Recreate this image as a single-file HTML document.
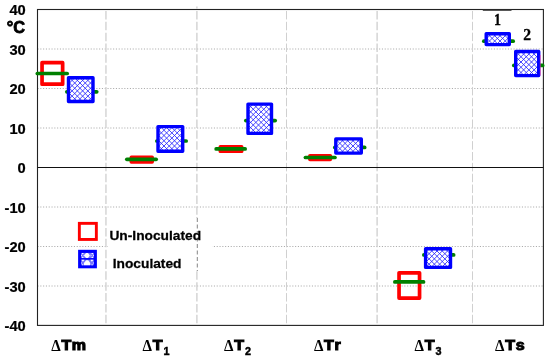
<!DOCTYPE html>
<html><head><meta charset="utf-8"><title>Chart</title>
<style>
html,body{margin:0;padding:0;background:#fff;}
svg{display:block;}
text{fill:#000;}
</style></head><body>
<svg width="550" height="358" viewBox="0 0 550 358">
<rect width="550" height="358" fill="#fff"/>
<line x1="37.5" x2="543.4" y1="49" y2="49" stroke="#acacac" stroke-width="1" stroke-dasharray="1.1 1.7"/>
<line x1="37.5" x2="543.4" y1="88.5" y2="88.5" stroke="#acacac" stroke-width="1" stroke-dasharray="1.1 1.7"/>
<line x1="37.5" x2="543.4" y1="128" y2="128" stroke="#acacac" stroke-width="1" stroke-dasharray="1.1 1.7"/>
<line x1="37.5" x2="543.4" y1="207" y2="207" stroke="#acacac" stroke-width="1" stroke-dasharray="1.1 1.7"/>
<line x1="37.5" x2="543.4" y1="246.5" y2="246.5" stroke="#acacac" stroke-width="1" stroke-dasharray="1.1 1.7"/>
<line x1="37.5" x2="543.4" y1="286" y2="286" stroke="#acacac" stroke-width="1" stroke-dasharray="1.1 1.7"/>
<clipPath id="vc"><rect x="0" y="9.5" width="550" height="315.9"/><rect x="190" y="6.5" width="14" height="4"/></clipPath><g clip-path="url(#vc)">
<line x1="105.95" x2="105.95" y1="0.1" y2="325.4" stroke="#d0d0d0" stroke-width="1.35" stroke-dasharray="8.5 2.35"/>
<line x1="196.9" x2="196.9" y1="0.1" y2="325.4" stroke="#d0d0d0" stroke-width="1.35" stroke-dasharray="8.5 2.35"/>
<line x1="286.5" x2="286.5" y1="0.1" y2="325.4" stroke="#d0d0d0" stroke-width="1.0" stroke-dasharray="8.5 2.35"/>
<line x1="377.1" x2="377.1" y1="0.1" y2="325.4" stroke="#d0d0d0" stroke-width="1.35" stroke-dasharray="8.5 2.35"/>
<line x1="472.5" x2="472.5" y1="0.1" y2="325.4" stroke="#d0d0d0" stroke-width="1.0" stroke-dasharray="8.5 2.35"/>
</g>
<rect x="37.5" y="9.5" width="505.9" height="315.9" fill="none" stroke="#222" stroke-width="1.1"/>
<line x1="37.5" x2="543.4" y1="167.5" y2="167.5" stroke="#111" stroke-width="1.2"/>
<line x1="482.8" x2="511.5" y1="10.2" y2="10.2" stroke="#333" stroke-width="1.2"/>
<rect x="42.05" y="62.65" width="20.60" height="21.50" fill="none" stroke="#ff0000" stroke-width="3.7" stroke-linejoin="round"/>
<line x1="37.35" x2="67.15" y1="73.50" y2="73.50" stroke="#008000" stroke-width="3.7" stroke-linecap="round"/>
<rect x="131.35" y="157.45" width="20.80" height="4.40" fill="#ff0000" stroke="#ff0000" stroke-width="3.7" stroke-linejoin="round"/>
<line x1="126.85" x2="156.15" y1="159.30" y2="159.30" stroke="#008000" stroke-width="3.7" stroke-linecap="round"/>
<rect x="220.35" y="146.95" width="21.30" height="4.20" fill="#ff0000" stroke="#ff0000" stroke-width="3.7" stroke-linejoin="round"/>
<line x1="216.15" x2="245.15" y1="148.90" y2="148.90" stroke="#008000" stroke-width="3.7" stroke-linecap="round"/>
<rect x="309.95" y="155.75" width="20.30" height="3.60" fill="#ff0000" stroke="#ff0000" stroke-width="3.7" stroke-linejoin="round"/>
<line x1="305.45" x2="334.95" y1="157.50" y2="157.50" stroke="#008000" stroke-width="3.7" stroke-linecap="round"/>
<rect x="399.05" y="272.85" width="20.50" height="25.20" fill="none" stroke="#ff0000" stroke-width="3.7" stroke-linejoin="round"/>
<line x1="394.85" x2="423.55" y1="281.90" y2="281.90" stroke="#008000" stroke-width="3.7" stroke-linecap="round"/>
<line x1="66.85" x2="96.75" y1="91.80" y2="91.80" stroke="#008000" stroke-width="3.7" stroke-linecap="round"/>
<clipPath id="c1"><rect x="68.20" y="77.40" width="25.10" height="24.40"/></clipPath>
<rect x="68.20" y="77.40" width="25.10" height="24.40" fill="#fff"/>
<path clip-path="url(#c1)" d="M67.20 106.97L94.30 134.06M67.20 101.72L94.30 128.81M67.20 96.47L94.30 123.56M67.20 91.22L94.30 118.31M67.20 85.97L94.30 113.06M67.20 80.72L94.30 107.81M67.20 75.47L94.30 102.56M67.20 70.22L94.30 97.31M67.20 64.97L94.30 92.06M67.20 59.72L94.30 86.81M67.20 54.47L94.30 81.56M67.20 49.22L94.30 76.31M67.20 43.97L94.30 71.06M67.20 69.54L94.30 42.44M67.20 74.79L94.30 47.69M67.20 80.04L94.30 52.94M67.20 85.29L94.30 58.19M67.20 90.54L94.30 63.44M67.20 95.79L94.30 68.69M67.20 101.04L94.30 73.94M67.20 106.29L94.30 79.19M67.20 111.54L94.30 84.44M67.20 116.79L94.30 89.69M67.20 122.04L94.30 94.94M67.20 127.29L94.30 100.19M67.20 132.54L94.30 105.44M67.20 137.79L94.30 110.69" stroke="#2626ff" stroke-width="0.85" fill="none"/>
<rect x="68.50" y="77.70" width="24.50" height="23.80" fill="none" stroke="#0000ff" stroke-width="3.4" stroke-linejoin="round"/>
<line x1="156.85" x2="186.15" y1="141.00" y2="141.00" stroke="#008000" stroke-width="3.7" stroke-linecap="round"/>
<clipPath id="c2"><rect x="157.70" y="126.30" width="25.30" height="25.30"/></clipPath>
<rect x="157.70" y="126.30" width="25.30" height="25.30" fill="#fff"/>
<path clip-path="url(#c2)" d="M156.70 159.71L184.00 187.02M156.70 154.46L184.00 181.77M156.70 149.21L184.00 176.52M156.70 143.96L184.00 171.27M156.70 138.71L184.00 166.02M156.70 133.46L184.00 160.77M156.70 128.21L184.00 155.52M156.70 122.96L184.00 150.27M156.70 117.71L184.00 145.02M156.70 112.46L184.00 139.77M156.70 107.21L184.00 134.52M156.70 101.96L184.00 129.27M156.70 96.71L184.00 124.02M156.70 91.46L184.00 118.77M156.70 121.79L184.00 94.48M156.70 127.04L184.00 99.73M156.70 132.29L184.00 104.98M156.70 137.54L184.00 110.23M156.70 142.79L184.00 115.48M156.70 148.04L184.00 120.73M156.70 153.29L184.00 125.98M156.70 158.54L184.00 131.23M156.70 163.79L184.00 136.48M156.70 169.04L184.00 141.73M156.70 174.29L184.00 146.98M156.70 179.54L184.00 152.23M156.70 184.79L184.00 157.48" stroke="#2626ff" stroke-width="0.85" fill="none"/>
<rect x="158.00" y="126.60" width="24.70" height="24.70" fill="none" stroke="#0000ff" stroke-width="3.4" stroke-linejoin="round"/>
<line x1="245.85" x2="275.15" y1="120.60" y2="120.60" stroke="#008000" stroke-width="3.7" stroke-linecap="round"/>
<clipPath id="c3"><rect x="247.70" y="103.80" width="24.10" height="29.90"/></clipPath>
<rect x="247.70" y="103.80" width="24.10" height="29.90" fill="#fff"/>
<path clip-path="url(#c3)" d="M246.70 139.46L272.80 165.56M246.70 134.21L272.80 160.31M246.70 128.96L272.80 155.06M246.70 123.71L272.80 149.81M246.70 118.46L272.80 144.56M246.70 113.21L272.80 139.31M246.70 107.96L272.80 134.06M246.70 102.71L272.80 128.81M246.70 97.46L272.80 123.56M246.70 92.21L272.80 118.31M246.70 86.96L272.80 113.06M246.70 81.71L272.80 107.81M246.70 76.46L272.80 102.56M246.70 71.21L272.80 97.31M246.70 94.79L272.80 68.69M246.70 100.04L272.80 73.94M246.70 105.29L272.80 79.19M246.70 110.54L272.80 84.44M246.70 115.79L272.80 89.69M246.70 121.04L272.80 94.94M246.70 126.29L272.80 100.19M246.70 131.54L272.80 105.44M246.70 136.79L272.80 110.69M246.70 142.04L272.80 115.94M246.70 147.29L272.80 121.19M246.70 152.54L272.80 126.44M246.70 157.79L272.80 131.69M246.70 163.04L272.80 136.94M246.70 168.29L272.80 142.19" stroke="#2626ff" stroke-width="0.85" fill="none"/>
<rect x="248.00" y="104.10" width="23.50" height="29.30" fill="none" stroke="#0000ff" stroke-width="3.4" stroke-linejoin="round"/>
<line x1="334.85" x2="364.65" y1="147.40" y2="147.40" stroke="#008000" stroke-width="3.7" stroke-linecap="round"/>
<clipPath id="c4"><rect x="335.50" y="138.60" width="26.10" height="14.80"/></clipPath>
<rect x="335.50" y="138.60" width="26.10" height="14.80" fill="#fff"/>
<path clip-path="url(#c4)" d="M334.50 159.01L362.60 187.12M334.50 153.76L362.60 181.87M334.50 148.51L362.60 176.62M334.50 143.26L362.60 171.37M334.50 138.01L362.60 166.12M334.50 132.76L362.60 160.87M334.50 127.51L362.60 155.62M334.50 122.26L362.60 150.37M334.50 117.01L362.60 145.12M334.50 111.76L362.60 139.87M334.50 106.51L362.60 134.62M334.50 101.26L362.60 129.37M334.50 132.99L362.60 104.88M334.50 138.24L362.60 110.13M334.50 143.49L362.60 115.38M334.50 148.74L362.60 120.63M334.50 153.99L362.60 125.88M334.50 159.24L362.60 131.13M334.50 164.49L362.60 136.38M334.50 169.74L362.60 141.63M334.50 174.99L362.60 146.88M334.50 180.24L362.60 152.13M334.50 185.49L362.60 157.38M334.50 190.74L362.60 162.63" stroke="#2626ff" stroke-width="0.85" fill="none"/>
<rect x="335.80" y="138.90" width="25.50" height="14.20" fill="none" stroke="#0000ff" stroke-width="3.4" stroke-linejoin="round"/>
<line x1="423.85" x2="453.65" y1="254.90" y2="254.90" stroke="#008000" stroke-width="3.7" stroke-linecap="round"/>
<clipPath id="c5"><rect x="425.30" y="248.50" width="25.50" height="19.20"/></clipPath>
<rect x="425.30" y="248.50" width="25.50" height="19.20" fill="#fff"/>
<path clip-path="url(#c5)" d="M424.30 275.06L451.80 302.56M424.30 269.81L451.80 297.31M424.30 264.56L451.80 292.06M424.30 259.31L451.80 286.81M424.30 254.06L451.80 281.56M424.30 248.81L451.80 276.31M424.30 243.56L451.80 271.06M424.30 238.31L451.80 265.81M424.30 233.06L451.80 260.56M424.30 227.81L451.80 255.31M424.30 222.56L451.80 250.06M424.30 217.31L451.80 244.81M424.30 212.06L451.80 239.56M424.30 242.69L451.80 215.19M424.30 247.94L451.80 220.44M424.30 253.19L451.80 225.69M424.30 258.44L451.80 230.94M424.30 263.69L451.80 236.19M424.30 268.94L451.80 241.44M424.30 274.19L451.80 246.69M424.30 279.44L451.80 251.94M424.30 284.69L451.80 257.19M424.30 289.94L451.80 262.44M424.30 295.19L451.80 267.69M424.30 300.44L451.80 272.94" stroke="#2626ff" stroke-width="0.85" fill="none"/>
<rect x="425.60" y="248.80" width="24.90" height="18.60" fill="none" stroke="#0000ff" stroke-width="3.4" stroke-linejoin="round"/>
<line x1="483.85" x2="513.15" y1="41.20" y2="41.20" stroke="#008000" stroke-width="3.7" stroke-linecap="round"/>
<clipPath id="c6"><rect x="485.90" y="33.40" width="23.70" height="11.50"/></clipPath>
<rect x="485.90" y="33.40" width="23.70" height="11.50" fill="#fff"/>
<path clip-path="url(#c6)" d="M484.90 52.16L510.60 77.87M484.90 46.91L510.60 72.62M484.90 41.66L510.60 67.37M484.90 36.41L510.60 62.12M484.90 31.16L510.60 56.87M484.90 25.91L510.60 51.62M484.90 20.66L510.60 46.37M484.90 15.41L510.60 41.12M484.90 10.16L510.60 35.87M484.90 4.91L510.60 30.62M484.90 -0.34L510.60 25.37M484.90 24.59L510.60 -1.12M484.90 29.84L510.60 4.13M484.90 35.09L510.60 9.38M484.90 40.34L510.60 14.63M484.90 45.59L510.60 19.88M484.90 50.84L510.60 25.13M484.90 56.09L510.60 30.38M484.90 61.34L510.60 35.63M484.90 66.59L510.60 40.88M484.90 71.84L510.60 46.13M484.90 77.09L510.60 51.38" stroke="#2626ff" stroke-width="0.85" fill="none"/>
<rect x="486.20" y="33.70" width="23.10" height="10.90" fill="none" stroke="#0000ff" stroke-width="3.4" stroke-linejoin="round"/>
<line x1="513.85" x2="542.65" y1="65.40" y2="65.40" stroke="#008000" stroke-width="3.7" stroke-linecap="round"/>
<clipPath id="c7"><rect x="515.40" y="51.20" width="23.60" height="24.70"/></clipPath>
<rect x="515.40" y="51.20" width="23.60" height="24.70" fill="#fff"/>
<path clip-path="url(#c7)" d="M514.40 81.67L540.00 107.26M514.40 76.42L540.00 102.01M514.40 71.17L540.00 96.76M514.40 65.92L540.00 91.51M514.40 60.67L540.00 86.26M514.40 55.42L540.00 81.01M514.40 50.17L540.00 75.76M514.40 44.92L540.00 70.51M514.40 39.67L540.00 65.26M514.40 34.42L540.00 60.01M514.40 29.17L540.00 54.76M514.40 23.92L540.00 49.51M514.40 18.67L540.00 44.26M514.40 42.33L540.00 16.74M514.40 47.58L540.00 21.99M514.40 52.83L540.00 27.24M514.40 58.08L540.00 32.49M514.40 63.33L540.00 37.74M514.40 68.58L540.00 42.99M514.40 73.83L540.00 48.24M514.40 79.08L540.00 53.49M514.40 84.33L540.00 58.74M514.40 89.58L540.00 63.99M514.40 94.83L540.00 69.24M514.40 100.08L540.00 74.49M514.40 105.33L540.00 79.74M514.40 110.58L540.00 84.99" stroke="#2626ff" stroke-width="0.85" fill="none"/>
<rect x="515.70" y="51.50" width="23.00" height="24.10" fill="none" stroke="#0000ff" stroke-width="3.4" stroke-linejoin="round"/>
<line x1="540.3" x2="540.3" y1="55" y2="75.5" stroke="#ff3090" stroke-width="0.8" opacity="0.7"/>
<rect x="108" y="218" width="104.6" height="53" fill="#fff"/>
<line x1="197.3" x2="197.3" y1="218" y2="271" stroke="#666" stroke-width="0.8" stroke-dasharray="4 2.5"/>
<rect x="79.35" y="223.35" width="17.00" height="16.10" fill="none" stroke="#ff0000" stroke-width="2.9" stroke-linejoin="miter"/>
<rect x="78.1" y="249.8" width="18.8" height="18.5" fill="#0000ff"/>
<rect x="81.2" y="252.9" width="12.6" height="5.2" fill="#7474ff"/>
<rect x="81.2" y="259.7" width="12.6" height="5.5" fill="#7474ff"/>
<path d="M86 252.9L88 252.9L89.9 255.5L88 258.1L86 258.1L84 255.5Z" fill="#fff"/>
<path d="M81.6 252.9L83.8 252.9L82.7 254.4Z M81.6 258.1L83.8 258.1L82.7 256.6Z M81.2 254.3L82.2 255.5L81.2 256.7Z M84.3 254.6L83.4 255.5L84.3 256.4Z" fill="#fff"/>
<path d="M91.2 252.9L93.4 252.9L92.3 254.4Z M91.2 258.1L93.4 258.1L92.3 256.6Z M93.8 254.3L92.8 255.5L93.8 256.7Z M90.7 254.6L91.6 255.5L90.7 256.4Z" fill="#fff"/>
<path d="M86.2 260.3L88.2 260.3L90.2 263L90.2 265.2L83.9 265.2L83.9 263Z" fill="#fff"/>
<path d="M81.4 259.7L84.4 259.7L82.9 261.8Z M90.4 259.7L93.4 259.7L91.9 261.8Z" fill="#fff"/>
<path d="M81.8 265.2L83.6 265.2L82.7 263.9Z M91.2 265.2L93 265.2L92.1 263.9Z M81.2 262L82 263L81.2 264Z M93.8 262L93 263L93.8 264Z" fill="#fff"/>
<text transform="translate(25.8,15.45) scale(0.955,1)" font-size="15.4" stroke="#000" stroke-width="0.25" text-anchor="end" font-family="Liberation Sans, Arial, sans-serif" font-weight="bold">40</text>
<text transform="translate(25.8,54.95) scale(0.955,1)" font-size="15.4" stroke="#000" stroke-width="0.25" text-anchor="end" font-family="Liberation Sans, Arial, sans-serif" font-weight="bold">30</text>
<text transform="translate(25.8,94.45) scale(0.955,1)" font-size="15.4" stroke="#000" stroke-width="0.25" text-anchor="end" font-family="Liberation Sans, Arial, sans-serif" font-weight="bold">20</text>
<text transform="translate(25.8,133.95) scale(0.955,1)" font-size="15.4" stroke="#000" stroke-width="0.25" text-anchor="end" font-family="Liberation Sans, Arial, sans-serif" font-weight="bold">10</text>
<text transform="translate(25.8,173.45) scale(0.955,1)" font-size="15.4" stroke="#000" stroke-width="0.25" text-anchor="end" font-family="Liberation Sans, Arial, sans-serif" font-weight="bold">0</text>
<text transform="translate(25.8,212.95) scale(0.955,1)" font-size="15.4" stroke="#000" stroke-width="0.25" text-anchor="end" font-family="Liberation Sans, Arial, sans-serif" font-weight="bold">-10</text>
<text transform="translate(25.8,252.45) scale(0.955,1)" font-size="15.4" stroke="#000" stroke-width="0.25" text-anchor="end" font-family="Liberation Sans, Arial, sans-serif" font-weight="bold">-20</text>
<text transform="translate(25.8,291.95) scale(0.955,1)" font-size="15.4" stroke="#000" stroke-width="0.25" text-anchor="end" font-family="Liberation Sans, Arial, sans-serif" font-weight="bold">-30</text>
<text transform="translate(25.8,331.45) scale(0.955,1)" font-size="15.4" stroke="#000" stroke-width="0.25" text-anchor="end" font-family="Liberation Sans, Arial, sans-serif" font-weight="bold">-40</text>
<text x="6.8" y="32.6" font-size="16.3" stroke="#000" stroke-width="0.8" font-family="Liberation Sans, Arial, sans-serif" font-weight="bold">°C</text>
<text transform="translate(109.4,240) scale(1.06,1)" font-size="13" stroke="#000" stroke-width="0.25" font-family="Liberation Sans, Arial, sans-serif" font-weight="bold">Un-Inoculated</text>
<text transform="translate(112.7,268) scale(1.06,1)" font-size="13" stroke="#000" stroke-width="0.25" font-family="Liberation Sans, Arial, sans-serif" font-weight="bold">Inoculated</text>
<text transform="translate(494,25) scale(0.85,1)" font-size="16.5" stroke="#000" stroke-width="0.3" font-family="Liberation Serif, Times New Roman, serif" font-weight="bold">1</text>
<text transform="translate(523.2,40.2) scale(0.95,1)" font-size="16.5" stroke="#000" stroke-width="0.3" font-family="Liberation Serif, Times New Roman, serif" font-weight="bold">2</text>
<text transform="translate(51.199999999999996,351.2) scale(0.88,1)" font-size="17.2" font-family="Liberation Serif, Times New Roman, serif" font-weight="bold">Δ</text><text transform="translate(61.4,349.9) scale(1.13,1)" font-size="14.2" letter-spacing="0.5" style="font-kerning:none" stroke="#000" stroke-width="1.0" stroke-linejoin="miter" font-family="Liberation Sans, Arial, sans-serif" font-weight="bold">Tm</text>
<text transform="translate(142.6,351.2) scale(0.88,1)" font-size="17.2" font-family="Liberation Serif, Times New Roman, serif" font-weight="bold">Δ</text><text transform="translate(152.79999999999998,349.9) scale(1.13,1)" font-size="14.2" letter-spacing="0.5" style="font-kerning:none" stroke="#000" stroke-width="1.0" stroke-linejoin="miter" font-family="Liberation Sans, Arial, sans-serif" font-weight="bold">T</text><text transform="translate(163.5,354.6) scale(0.93,1)" font-size="11.6" stroke="#000" stroke-width="0.5" font-family="Liberation Sans, Arial, sans-serif" font-weight="bold">1</text>
<text transform="translate(224.0,351.2) scale(0.88,1)" font-size="17.2" font-family="Liberation Serif, Times New Roman, serif" font-weight="bold">Δ</text><text transform="translate(234.2,349.9) scale(1.13,1)" font-size="14.2" letter-spacing="0.5" style="font-kerning:none" stroke="#000" stroke-width="1.0" stroke-linejoin="miter" font-family="Liberation Sans, Arial, sans-serif" font-weight="bold">T</text><text transform="translate(244.9,354.6) scale(0.93,1)" font-size="11.6" stroke="#000" stroke-width="0.5" font-family="Liberation Sans, Arial, sans-serif" font-weight="bold">2</text>
<text transform="translate(313.9,351.2) scale(0.88,1)" font-size="17.2" font-family="Liberation Serif, Times New Roman, serif" font-weight="bold">Δ</text><text transform="translate(324.1,349.9) scale(1.13,1)" font-size="14.2" letter-spacing="0.5" style="font-kerning:none" stroke="#000" stroke-width="1.0" stroke-linejoin="miter" font-family="Liberation Sans, Arial, sans-serif" font-weight="bold">Tr</text>
<text transform="translate(414.5,351.2) scale(0.88,1)" font-size="17.2" font-family="Liberation Serif, Times New Roman, serif" font-weight="bold">Δ</text><text transform="translate(424.70000000000005,349.9) scale(1.13,1)" font-size="14.2" letter-spacing="0.5" style="font-kerning:none" stroke="#000" stroke-width="1.0" stroke-linejoin="miter" font-family="Liberation Sans, Arial, sans-serif" font-weight="bold">T</text><text transform="translate(435.40000000000003,354.6) scale(0.93,1)" font-size="11.6" stroke="#000" stroke-width="0.5" font-family="Liberation Sans, Arial, sans-serif" font-weight="bold">3</text>
<text transform="translate(495.09999999999997,351.2) scale(0.88,1)" font-size="17.2" font-family="Liberation Serif, Times New Roman, serif" font-weight="bold">Δ</text><text transform="translate(505.3,349.9) scale(1.13,1)" font-size="14.2" letter-spacing="0.5" style="font-kerning:none" stroke="#000" stroke-width="1.0" stroke-linejoin="miter" font-family="Liberation Sans, Arial, sans-serif" font-weight="bold">Ts</text>
</svg>
</body></html>
